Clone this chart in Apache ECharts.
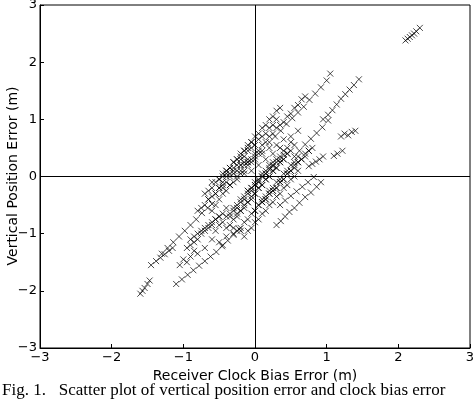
<!DOCTYPE html><html><head><meta charset="utf-8"><script src="https://cdn.jsdelivr.net/npm/echarts@6/dist/echarts.min.js"></script>
<style>body{margin:0;background:#fff}#c{width:474px;height:406px}</style></head><body><div id="c"></div><script>
const xTicks=[-3,-2,-1,0,1,2,3];
const yTicks=[-3,-2,-1,0,1,2,3];
const clockBias=[2.1,2.13,2.16,2.19,2.22,2.25,2.3,
0.2,0.28,0.36,0.44,0.52,0.6,0.68,0.76,0.84,0.92,1.0,1.05,
0.95,1.02,1.08,1.14,1.2,1.26,1.32,1.38,1.45,
0.55,0.62,0.7,0.78,0.86,0.94,1.02,
1.2,1.25,1.3,1.35,1.4,1.1,1.15,1.22,
0.75,0.8,0.85,0.9,0.95,
-1.6,-1.57,-1.54,-1.5,-1.47,
-1.3,-1.22,-1.14,-1.06,-0.98,-0.9,-0.82,-0.74,-0.66,-0.6,
-1.1,-1.02,-0.94,-0.86,-0.78,-0.7,-0.62,-0.54,-0.46,-0.38,-0.3,-0.22,
0.35,0.42,0.5,0.58,0.66,0.74,0.82,
-0.1,-0.05,0.0,0.05,0.1,0.15,0.2,0.25,0.3,0.35,0.4,
-0.9,-0.85,-0.8,-0.75,-0.7,-0.65,-0.6,-0.55,-0.5,
-0.6,-0.55,-0.5,-0.45,-0.4,-0.35,-0.3,-0.25,-0.2,-0.15,-0.1,-0.05,0.0,0.05,0.1,
-0.5,-0.45,-0.4,-0.35,-0.3,-0.25,-0.2,-0.15,-0.1,-0.05,0.0,0.05,0.1,0.15,0.2,0.25,0.3,
-0.4,-0.35,-0.3,-0.25,-0.2,-0.15,-0.1,-0.05,0.0,0.05,0.1,0.15,0.2,0.25,0.3,0.35,0.4,0.45,
-0.3,-0.25,-0.2,-0.15,-0.1,-0.05,0.0,0.05,0.1,0.15,0.2,0.25,0.3,0.35,0.4,0.45,0.5,0.55,0.6,
-0.2,-0.15,-0.1,-0.05,0.0,0.05,0.1,0.15,0.2,0.25,0.3,0.35,0.4,0.45,0.5,0.55,0.6,0.65,0.7,
-0.7,-0.65,-0.6,-0.55,-0.5,-0.45,-0.4,-0.35,-0.3,-0.25,-0.2,-0.15,-0.1,-0.05,
-0.95,-0.9,-0.85,-0.8,-0.75,-0.7,-0.65,-0.6,-0.55,-0.5,-0.45,-0.4,
0.0,0.05,0.1,0.15,0.2,0.25,0.3,0.35,0.4,0.45,0.5,0.55,0.6,0.65,0.7,0.75,0.8,
-1.05,-1.0,-0.95,-0.9,-0.85,-0.8,-0.7,-0.6,-0.5,-0.45,-0.4,-0.3,-0.2,
-1.45,-1.38,-1.32,-1.26,-1.2,-1.15,
0.3,0.36,0.42,0.48,0.55,0.62,0.7,0.78,0.86,0.92,
-0.65,-0.55,-0.45,-0.35,-0.25,-0.15,-0.05,0.05,0.15,0.25,0.35,
-0.55,-0.5,-0.45,-0.4,-0.35,-0.3,-0.25,-0.2,-0.15,-0.1,-0.05,0.0,0.05,0.1,0.15,0.2,0.25,
-0.45,-0.4,-0.35,-0.3,-0.25,-0.2,-0.15,-0.1,-0.05,0.0,0.05,0.1,0.15,0.2,0.25,0.3,0.35,
-0.35,-0.3,-0.25,-0.2,-0.15,-0.1,-0.05,0.0,0.05,0.1,0.15,0.2,0.25,0.3,0.35,0.4,0.45,0.5,
-0.25,-0.2,-0.15,-0.1,-0.05,0.0,0.05,0.1,0.15,0.2,0.25,0.3,0.35,0.4,0.45,0.5,0.55,
-0.15,-0.1,-0.05,0.0,0.05,0.1,0.15,0.2,0.25,0.3,0.35,0.4,0.45,0.5,0.55,0.6,
-0.8,-0.75,-0.7,-0.65,-0.6,-0.55,-0.5,-0.45,-0.4,-0.35,-0.3,-0.25,-0.2,-0.15,-0.1,
0.1,0.15,0.2,0.25,0.3,0.35,0.4,0.45,0.5,0.55,0.6,0.65,0.7,0.75,
-0.6,-0.5,-0.4,-0.3,-0.2,-0.1,0.0,0.1,0.2,0.3,0.4,0.5,0.6];
const verticalError=[2.38,2.41,2.44,2.47,2.5,2.54,2.6,
0.6,0.7,0.8,0.92,1.02,1.12,1.22,1.34,1.45,1.56,1.68,1.8,
1.0,1.08,1.16,1.26,1.36,1.44,1.52,1.6,1.7,
0.35,0.45,0.56,0.66,0.76,0.86,0.98,
0.7,0.75,0.72,0.78,0.8,0.36,0.4,0.45,
0.18,0.22,0.26,0.3,0.35,
-2.05,-2.0,-1.95,-1.88,-1.82,
-1.35,-1.25,-1.15,-1.05,-0.95,-0.85,-0.75,-0.64,-0.55,-0.48,
-1.88,-1.8,-1.72,-1.64,-1.56,-1.48,-1.4,-1.32,-1.22,-1.12,-1.02,-0.92,
-0.5,-0.42,-0.34,-0.26,-0.18,-0.1,-0.01,
-0.25,-0.2,-0.15,-0.08,0.0,0.05,0.12,0.18,0.25,0.3,0.38,
-1.1,-1.05,-1.0,-0.95,-0.9,-0.85,-0.8,-0.75,-0.7,
-0.6,-0.5,-0.4,-0.3,-0.25,-0.15,-0.1,0.0,0.05,0.1,0.2,0.25,0.3,0.4,0.45,
-0.2,-0.1,0.0,0.05,0.15,0.2,0.3,0.35,0.45,0.5,0.55,0.65,0.7,0.75,0.85,0.9,1.0,
-0.9,-0.85,-0.75,-0.7,-0.6,-0.55,-0.45,-0.4,-0.3,-0.2,-0.15,-0.05,0.0,0.1,0.15,0.25,0.3,0.4,
-1.0,-0.95,-0.9,-0.8,-0.75,-0.65,-0.6,-0.5,-0.4,-0.35,-0.25,-0.2,-0.1,-0.05,0.05,0.1,0.2,0.25,0.35,
0.1,0.2,0.25,0.3,0.4,0.45,0.55,0.6,0.7,0.75,0.85,0.9,0.95,1.05,1.1,1.2,1.25,1.35,1.4,
-0.3,-0.25,-0.2,-0.1,-0.05,0.05,0.1,0.15,0.25,0.3,0.35,0.45,0.5,0.6,
-1.25,-1.2,-1.15,-1.1,-1.0,-0.95,-0.9,-0.85,-0.75,-0.7,-0.65,-0.55,
-0.6,-0.5,-0.45,-0.4,-0.3,-0.25,-0.2,-0.1,-0.05,0.05,0.1,0.2,0.25,0.3,0.4,0.45,0.5,
-1.55,-1.45,-1.5,-1.4,-1.3,-1.35,-1.25,-1.1,-1.15,-1.2,-1.05,-0.9,-0.95,
-1.55,-1.48,-1.42,-1.36,-1.3,-1.25,
-0.85,-0.78,-0.7,-0.62,-0.55,-0.46,-0.36,-0.28,-0.18,-0.1,
-0.4,-0.3,-0.2,-0.15,-0.05,0.05,0.1,0.2,0.3,0.4,0.5,
-0.95,-0.85,-0.8,-0.7,-0.65,-0.55,-0.5,-0.4,-0.35,-0.25,-0.2,-0.1,-0.05,0.05,0.1,0.2,0.25,
0.0,0.1,0.15,0.25,0.3,0.4,0.45,0.55,0.6,0.7,0.75,0.85,0.9,1.0,1.05,1.15,1.2,
-0.7,-0.6,-0.55,-0.45,-0.4,-0.3,-0.25,-0.15,-0.1,0.0,0.05,0.15,0.2,0.3,0.35,0.45,0.5,0.6,
-0.65,-0.6,-0.5,-0.45,-0.35,-0.3,-0.2,-0.15,-0.05,0.0,0.1,0.15,0.25,0.3,0.4,0.45,0.55,
-1.05,-0.95,-0.9,-0.8,-0.75,-0.65,-0.6,-0.5,-0.45,-0.35,-0.3,-0.2,-0.15,-0.05,0.0,0.1,
-0.6,-0.55,-0.5,-0.4,-0.35,-0.3,-0.2,-0.15,-0.1,0.0,0.05,0.1,0.2,0.25,0.3,
-0.45,-0.4,-0.3,-0.25,-0.2,-0.1,-0.05,0.05,0.1,0.15,0.25,0.3,0.35,0.45,
-0.1,-0.05,0.05,0.1,0.2,0.25,0.35,0.4,0.5,0.55,0.65,0.7,0.8];
const pts=clockBias.map((x,i)=>[x,verticalError[i]]);
const ax={type:'value',min:-3,max:3,interval:1,
 axisLine:{onZero:false,lineStyle:{color:'#000',width:1}},
 axisTick:{inside:true,length:4,lineStyle:{color:'#000'}},
 axisLabel:{color:'#000',fontSize:13,fontFamily:'DejaVu Sans',formatter:v=>v<0?'\u2212'+(-v):String(v),margin:3},
 splitLine:{show:false},nameLocation:'middle',
 nameTextStyle:{color:'#000',fontSize:14,fontFamily:'DejaVu Sans'}};
const chart=echarts.init(document.getElementById('c'));
chart.setOption({animation:false,
 grid:{left:40,right:4,top:5,bottom:58,outerBoundsMode:'none',containLabel:false,show:true,borderColor:'#000',borderWidth:1},
 xAxis:Object.assign({},ax,{name:'Receiver Clock Bias Error (m)',nameGap:21,position:'bottom'}),
 yAxis:Object.assign({},ax),
 graphic:[
  {type:'text',x:13,y:176,rotation:Math.PI/2,style:{text:'Vertical Position Error (m)',font:'14px DejaVu Sans',fill:'#000',align:'center',verticalAlign:'middle'}},
  {type:'text',left:2,top:382,style:{text:'Fig. 1.   Scatter plot of vertical position error and clock bias error',font:'17px Liberation Serif',fill:'#000'}}],
 series:[{type:'scatter',data:pts,symbol:'path://M0,0L10,10M10,0L0,10',symbolSize:6,
  itemStyle:{color:'none',borderColor:'#000',borderWidth:0.9},
  markLine:{silent:true,symbol:'none',label:{show:false},lineStyle:{color:'#000',width:1,type:'solid'},
   data:[{xAxis:0},{yAxis:0}]}}]});
</script></body></html>
